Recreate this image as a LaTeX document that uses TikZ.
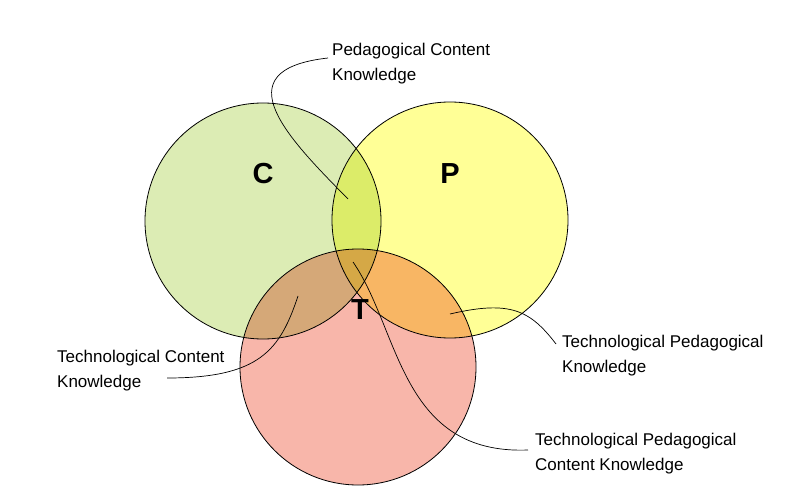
\documentclass[tikz,border=0pt]{standalone}
\usepackage{fontspec}
\setmainfont{Liberation Sans}
\begin{document}
\begin{tikzpicture}[x=1pt,y=-1pt,
  circ/.style={draw=black,line width=0.8pt},
  lbl/.style={align=left,anchor=north west,font=\fontsize{17}{25}\selectfont,inner sep=0pt},
  big/.style={font=\bfseries\fontsize{29}{29}\selectfont},
  lead/.style={line width=0.7pt}]
\useasboundingbox (0,0) rectangle (798,497);
\fill[fill=white] (0,0) rectangle (798,497);
\begin{scope}[blend group=multiply]
\fill[fill={rgb,255:red,220;green,236;blue,180}] (263,221) circle (118);
\fill[fill={rgb,255:red,255;green,255;blue,150}] (450,220) circle (118);
\fill[fill={rgb,255:red,248;green,182;blue,170}] (358,367) circle (118);
\end{scope}
\node[circ,circle,minimum size=236pt] (C) at (263,221) {};
\node[circ,circle,minimum size=236pt] (P) at (450,220) {};
\node[circ,circle,minimum size=236pt] (T) at (358,367) {};
\node[big] (cl) at (263,174) {C};
\node[big] (pl) at (450,174) {P};
\node[big] (tl) at (360,310) {T};
\node[lbl] (pck) at (332,43) {Pedagogical Content\\Knowledge};
\node[lbl] (tck) at (57,350) {Technological Content\\Knowledge};
\node[lbl] (tpk) at (562,335) {Technological Pedagogical\\Knowledge};
\node[lbl] (tpck) at (535,433) {Technological Pedagogical\\Content Knowledge};
\coordinate (a1) at (348,199);
\coordinate (b1) at (328,58);
\coordinate (a2) at (298,296);
\coordinate (b2) at (167,378);
\coordinate (a3) at (450,314);
\coordinate (b3) at (556,344);
\coordinate (a4) at (353,262);
\coordinate (b4) at (528,450);
\draw[lead] (a1) .. controls (290,140) and (220,70) .. (b1);
\draw[lead] (a2) .. controls (280,350) and (260,378) .. (b2);
\draw[lead] (a3) .. controls (510,300) and (530,310) .. (b3);
\draw[lead] (a4) .. controls (400,330) and (400,455) .. (b4);
\end{tikzpicture}
\end{document}
